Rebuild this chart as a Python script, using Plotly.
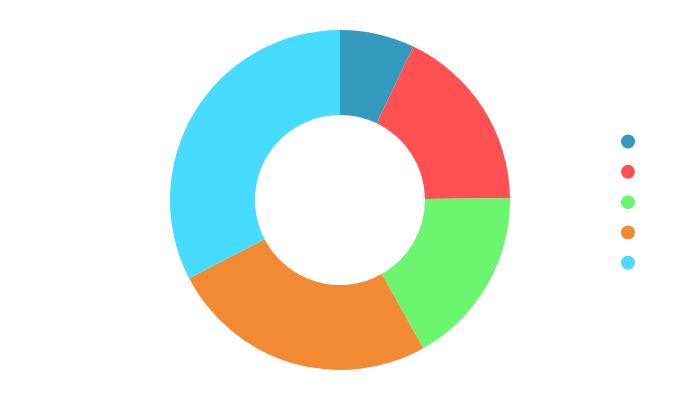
import plotly.graph_objects as go

# slice values, read clockwise from 12 o'clock
labels = ["A", "B", "C", "D", "E"]
values = [10, 25, 24, 36, 46]
colors = ["#339abd", "#ff5151", "#6cf56f", "#f28a33", "#46dbff"]

fig = go.Figure()

fig.add_trace(go.Pie(
    labels=labels,
    values=values,
    hole=0.5,
    sort=False,
    direction="clockwise",
    rotation=0,
    marker=dict(colors=colors, line=dict(width=0)),
    textinfo="none",
    hoverinfo="label+value+percent",
    showlegend=False,
    domain=dict(x=[162 / 700, 502 / 700], y=[38 / 400, 378 / 400]),
))

# legend entries drawn as circles, without labels
for lab, col in zip(labels, colors):
    fig.add_trace(go.Scatter(
        x=[None], y=[None], mode="markers", name=" ",
        marker=dict(symbol="circle", size=14, color=col),
        showlegend=True, hoverinfo="skip",
    ))

fig.update_layout(
    width=700, height=400,
    margin=dict(l=0, r=0, t=0, b=0),
    paper_bgcolor="white",
    plot_bgcolor="white",
    xaxis=dict(visible=False),
    yaxis=dict(visible=False),
    legend=dict(
        x=600 / 700, y=0.514, xanchor="left", yanchor="middle",
        font=dict(size=21, family="Open Sans"),
        bgcolor="rgba(0,0,0,0)",
    ),
)

fig.write_html("out.html")
